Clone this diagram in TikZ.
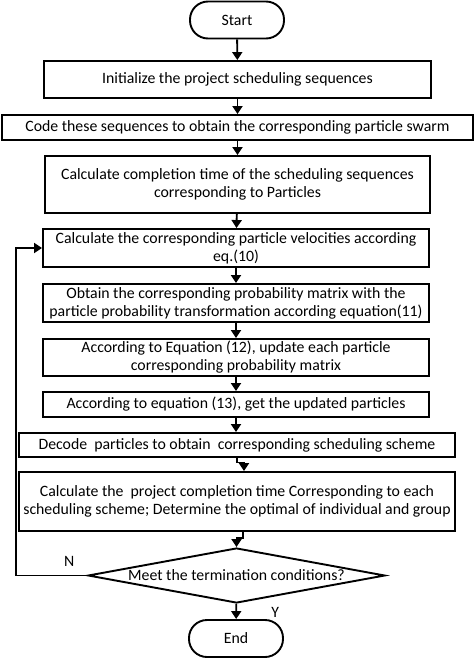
\documentclass[tikz,border=0pt]{standalone}
\usepackage{fontspec}
\setmainfont{Carlito}
\usetikzlibrary{
    arrows.meta,
    shapes.geometric
}
\tikzset{
    % Lines
    flow line/.style={line width=1.9pt},
    %
    % Nodes
    process/.style={draw,flow line,rectangle,align=center,inner sep=0pt,minimum width=#1},
    process/.default=386pt,
    terminal/.style={draw,flow line,rectangle,rounded corners=18pt,minimum width=94pt,minimum height=37pt,inner sep=0pt},
    decision/.style={draw,flow line,diamond,inner sep=0pt,minimum width=297pt,minimum height=55pt},
    %
    % Arrows
    arrow tip/.tip={Triangle[length=8pt,width=10pt]},
    arr/.style={flow line,->,>={arrow tip}}
}
\tikzstyle{every node}=[font=\fontsize{15.8}{18}\selectfont]

\begin{document}
\begin{tikzpicture}[x=1pt,y=-1pt]
        \useasboundingbox (0,0) rectangle (474,659);
        \node[terminal] (start) at (237,20) {Start};
        \node[process=387pt,minimum height=37pt] (init) at (237.5,79.5) {Initialize the project scheduling sequences};
        \node[process=471pt,minimum height=25pt] (code) at (237.5,127.5) {Code these sequences to obtain the corresponding particle swarm};
        \node[process=385pt,minimum height=57pt] (ctime) at (237.5,184.5) {Calculate completion time of the scheduling sequences\\corresponding to Particles};
        \node[process,minimum height=38pt] (velo) at (236,248) {Calculate the corresponding particle velocities according\\eq.(10)};
        \node[process,minimum height=38pt] (prob) at (236,303) {Obtain the corresponding probability matrix with the\\particle probability transformation according equation(11)};
        \node[process,minimum height=37pt] (update) at (236,357.5) {According to Equation (12), update each particle\\corresponding probability matrix};
        \node[process,minimum height=25pt] (newpart) at (236,404.5) {According to equation (13), get the updated particles};
        \node[process=436pt,minimum height=24pt] (decode) at (237,445) {Decode\ \ particles to obtain\ \ corresponding scheduling scheme};
        \node[process=436pt,minimum height=59pt] (optim) at (237,501.5) {Calculate the\ \ project completion time Corresponding to each\\scheduling scheme; Determine the optimal of individual and group};
        \node[decision,label={center:Meet the termination conditions?}] (cond) at (236.5,575.5) {};
        \node[terminal] (end) at (236,638.5) {End};
        % connectors
        \draw[arr] (start) -- (init);
        \draw[arr] (init) -- (code);
        \draw[arr] (code) -- (ctime);
        \draw[arr] (ctime) -- (velo);
        \draw[arr] (velo) -- (prob);
        \draw[arr] (prob) -- (update);
        \draw[arr] (update) -- (newpart);
        \draw[arr] (newpart.south) -- (newpart.south |- decode.north);
        \draw[arr] (decode.south) -- ++(0,4.5) -| ([xshift=7pt]optim.north);
        \draw[arr] ([xshift=6pt]optim.south) -- ++(0,6) -| (cond.north);
        \draw[arr] (cond) -- node[pos=.55,right=31pt] {Y} (end);
        % loop back
        \coordinate (back) at (16,575.5);
        \draw[arr] (cond.west) -- node[above=5pt,pos=.25] {N} (back) |- (velo.west);
    \end{tikzpicture}
\end{document}
